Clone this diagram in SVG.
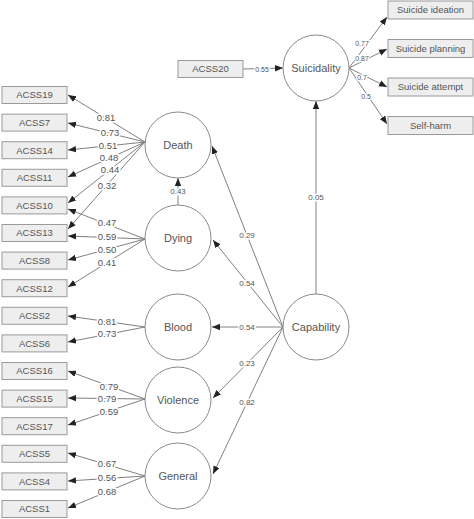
<svg xmlns="http://www.w3.org/2000/svg" width="474" height="519" viewBox="0 0 474 519">
<defs>
<marker id="ah" markerUnits="userSpaceOnUse" markerWidth="8" markerHeight="8" viewBox="0 0 10 10" refX="10" refY="5" orient="auto">
<path d="M0,1 L10,5 L0,9 z" fill="#222"/>
</marker>
</defs>
<style>
.box{fill:#eeeeee;stroke:#9a9a9a;stroke-width:1}
.lat{fill:#ffffff;stroke:#8a8a8a;stroke-width:1}
.bt{font-family:"Liberation Sans",Arial,sans-serif;font-size:9.5px;fill:#555;text-anchor:middle}
.ct{font-family:"Liberation Sans",Arial,sans-serif;font-size:11px;fill:#555;text-anchor:middle}
.e{stroke:#808080;stroke-width:1;fill:none;marker-end:url(#ah)}
.l1{font-family:"Liberation Sans",Arial,sans-serif;font-size:9.5px;fill:#555;text-anchor:middle;stroke:#fff;stroke-width:3;paint-order:stroke}
.l2{font-family:"Liberation Sans",Arial,sans-serif;font-size:8px;fill:#555;text-anchor:middle;stroke:#fff;stroke-width:3;paint-order:stroke}
.l3{font-family:"Liberation Sans",Arial,sans-serif;font-size:7px;fill:#555;text-anchor:middle;stroke:#fff;stroke-width:2.5;paint-order:stroke}
</style>
<rect width="474" height="519" fill="#fff"/>
<g id="connectors">
<line class="e" x1="145" y1="142" x2="68" y2="95"/>
<line class="e" x1="145" y1="142" x2="68" y2="123"/>
<line class="e" x1="145" y1="142" x2="68" y2="150"/>
<line class="e" x1="145" y1="142" x2="68" y2="177"/>
<line class="e" x1="145" y1="142" x2="68" y2="203"/>
<line class="e" x1="145" y1="142" x2="68" y2="229"/>
<line class="e" x1="145" y1="239" x2="68" y2="209"/>
<line class="e" x1="145" y1="239" x2="68" y2="236"/>
<line class="e" x1="145" y1="239" x2="68" y2="260"/>
<line class="e" x1="145" y1="239" x2="68" y2="287"/>
<line class="e" x1="145" y1="327" x2="68" y2="316"/>
<line class="e" x1="145" y1="327" x2="68" y2="342"/>
<line class="e" x1="145" y1="399" x2="68" y2="371"/>
<line class="e" x1="145" y1="399" x2="68" y2="398"/>
<line class="e" x1="145" y1="399" x2="68" y2="425"/>
<line class="e" x1="145" y1="476" x2="68" y2="453"/>
<line class="e" x1="145" y1="476" x2="68" y2="481"/>
<line class="e" x1="145" y1="476" x2="68" y2="508"/>
<line class="e" x1="178" y1="205" x2="178" y2="178"/>
<line class="e" x1="283" y1="327" x2="212" y2="146"/>
<line class="e" x1="283" y1="327" x2="213" y2="240"/>
<line class="e" x1="283" y1="327" x2="212" y2="327"/>
<line class="e" x1="283" y1="327" x2="213" y2="398"/>
<line class="e" x1="283" y1="327" x2="213" y2="474"/>
<line class="e" x1="316" y1="294" x2="316" y2="101"/>
<line class="e" x1="243" y1="69" x2="283" y2="68"/>
<line class="e" x1="349" y1="68" x2="387" y2="17"/>
<line class="e" x1="349" y1="68" x2="387" y2="49"/>
<line class="e" x1="349" y1="68" x2="387" y2="87"/>
<line class="e" x1="349" y1="68" x2="387" y2="124"/>
<text class="l1" x="106" y="121">0.81</text>
<text class="l1" x="110" y="136">0.73</text>
<text class="l1" x="108" y="149">0.51</text>
<text class="l1" x="109" y="161">0.48</text>
<text class="l1" x="110" y="173">0.44</text>
<text class="l1" x="107" y="189">0.32</text>
<text class="l1" x="107" y="226">0.47</text>
<text class="l1" x="107" y="240">0.59</text>
<text class="l1" x="107" y="253">0.50</text>
<text class="l1" x="107" y="266">0.41</text>
<text class="l1" x="107" y="325">0.81</text>
<text class="l1" x="107" y="337">0.73</text>
<text class="l1" x="109" y="390">0.79</text>
<text class="l1" x="107" y="402">0.79</text>
<text class="l1" x="109" y="415">0.59</text>
<text class="l1" x="107" y="467">0.67</text>
<text class="l1" x="107" y="481">0.56</text>
<text class="l1" x="107" y="495">0.68</text>
<text class="l2" x="178" y="194">0.43</text>
<text class="l2" x="247" y="238">0.29</text>
<text class="l2" x="247" y="286">0.54</text>
<text class="l2" x="247" y="330">0.54</text>
<text class="l2" x="247" y="366">0.23</text>
<text class="l2" x="247" y="405">0.82</text>
<text class="l2" x="316" y="200">0.05</text>
<text class="l3" x="262" y="71.5">0.55</text>
<text class="l3" x="362" y="45.5">0.77</text>
<text class="l3" x="362" y="60.5">0.87</text>
<text class="l3" x="362" y="79.5">0.7</text>
<text class="l3" x="366" y="98.5">0.5</text>
</g>
<g id="ACSS19"><rect class="box" x="2" y="86.5" width="65" height="17"/><text class="bt" x="34.5" y="98.3">ACSS19</text></g>
<g id="ACSS7"><rect class="box" x="2" y="114.1" width="65" height="17"/><text class="bt" x="34.5" y="125.9">ACSS7</text></g>
<g id="ACSS14"><rect class="box" x="2" y="141.7" width="65" height="17"/><text class="bt" x="34.5" y="153.5">ACSS14</text></g>
<g id="ACSS11"><rect class="box" x="2" y="169.3" width="65" height="17"/><text class="bt" x="34.5" y="181.1">ACSS11</text></g>
<g id="ACSS10"><rect class="box" x="2" y="196.9" width="65" height="17"/><text class="bt" x="34.5" y="208.7">ACSS10</text></g>
<g id="ACSS13"><rect class="box" x="2" y="224.5" width="65" height="17"/><text class="bt" x="34.5" y="236.3">ACSS13</text></g>
<g id="ACSS8"><rect class="box" x="2" y="252.1" width="65" height="17"/><text class="bt" x="34.5" y="263.9">ACSS8</text></g>
<g id="ACSS12"><rect class="box" x="2" y="279.7" width="65" height="17"/><text class="bt" x="34.5" y="291.5">ACSS12</text></g>
<g id="ACSS2"><rect class="box" x="2" y="307.3" width="65" height="17"/><text class="bt" x="34.5" y="319.1">ACSS2</text></g>
<g id="ACSS6"><rect class="box" x="2" y="334.9" width="65" height="17"/><text class="bt" x="34.5" y="346.7">ACSS6</text></g>
<g id="ACSS16"><rect class="box" x="2" y="362.5" width="65" height="17"/><text class="bt" x="34.5" y="374.3">ACSS16</text></g>
<g id="ACSS15"><rect class="box" x="2" y="390.1" width="65" height="17"/><text class="bt" x="34.5" y="401.9">ACSS15</text></g>
<g id="ACSS17"><rect class="box" x="2" y="417.7" width="65" height="17"/><text class="bt" x="34.5" y="429.5">ACSS17</text></g>
<g id="ACSS5"><rect class="box" x="2" y="445.3" width="65" height="17"/><text class="bt" x="34.5" y="457.1">ACSS5</text></g>
<g id="ACSS4"><rect class="box" x="2" y="472.9" width="65" height="17"/><text class="bt" x="34.5" y="484.7">ACSS4</text></g>
<g id="ACSS1"><rect class="box" x="2" y="500.5" width="65" height="17"/><text class="bt" x="34.5" y="512.3">ACSS1</text></g>
<g id="ACSS20"><rect class="box" x="178" y="60.5" width="65" height="17"/><text class="bt" x="210.5" y="72.3">ACSS20</text></g>
<g id="SuicideIdeation"><rect class="box" x="388" y="1" width="85" height="18"/><text class="bt" x="430.5" y="13.3">Suicide ideation</text></g>
<g id="SuicidePlanning"><rect class="box" x="388" y="39.5" width="85" height="18"/><text class="bt" x="430.5" y="51.8">Suicide planning</text></g>
<g id="SuicideAttempt"><rect class="box" x="388" y="78" width="85" height="18"/><text class="bt" x="430.5" y="90.3">Suicide attempt</text></g>
<g id="SelfHarm"><rect class="box" x="388" y="116.5" width="85" height="18"/><text class="bt" x="430.5" y="128.8">Self-harm</text></g>
<g id="Death"><circle class="lat" cx="178" cy="145" r="33"/><text class="ct" x="178" y="149">Death</text></g>
<g id="Dying"><circle class="lat" cx="178" cy="238" r="33"/><text class="ct" x="178" y="242">Dying</text></g>
<g id="Blood"><circle class="lat" cx="178" cy="327" r="33"/><text class="ct" x="178" y="331">Blood</text></g>
<g id="Violence"><circle class="lat" cx="178" cy="400" r="33"/><text class="ct" x="178" y="404">Violence</text></g>
<g id="General"><circle class="lat" cx="178" cy="476" r="33"/><text class="ct" x="178" y="480">General</text></g>
<g id="Capability"><circle class="lat" cx="316" cy="327" r="33"/><text class="ct" x="316" y="331">Capability</text></g>
<g id="Suicidality"><circle class="lat" cx="316" cy="68" r="33"/><text class="ct" x="316" y="72">Suicidality</text></g>
</svg>
